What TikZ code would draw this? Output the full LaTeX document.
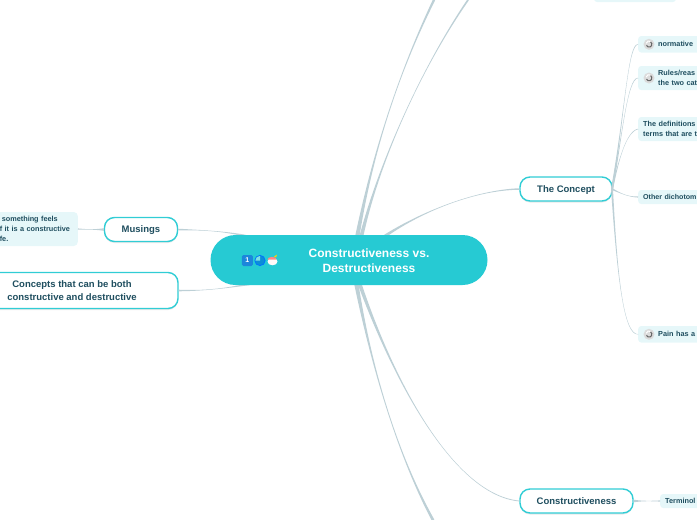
\documentclass[tikz,border=0pt]{standalone}
\usepackage{fontspec}
\setmainfont{Liberation Sans}
\usetikzlibrary{positioning,calc,shadows}
\definecolor{teal1}{HTML}{26CAD3}
\definecolor{ink}{HTML}{1F4E5F}
\definecolor{linkc}{HTML}{BDD0D6}
\definecolor{paleb}{HTML}{E6F7F9}
% tapered branch: from, control, control, to, half width at each end
\newcommand{\branch}[6]{\fill[linkc] ($(#1)!#5!90:(#4)$) .. controls (#2) and (#3) .. ($(#4)!#6!-90:(#1)$) -- ($(#4)!#6!90:(#1)$) .. controls (#3) and (#2) .. ($(#1)!#5!-90:(#4)$) -- cycle;}
\tikzset{
  mainbox/.style={fill=teal1,rounded corners=25pt,minimum width=277pt,minimum height=50pt},
  maintext/.style={text=white,align=center,font=\bfseries\fontsize{12}{15}\selectfont},
  topicbox/.style={draw=teal1!95,line width=1.4pt,fill=white,rounded corners=10pt,text=ink,align=center,
    font=\bfseries\fontsize{9.5}{13}\selectfont,minimum height=24pt,inner sep=0pt,
    drop shadow={opacity=.18,shadow xshift=0pt,shadow yshift=-1.5pt}},
  oneline/.style={text height=6.8pt,text depth=0pt},
  notebox/.style={fill=paleb,rounded corners=3pt,text=ink,align=left,anchor=west,inner xsep=#1,inner ysep=0pt,
    text width=110pt,font=\bfseries\fontsize{7.3}{9.7}\selectfont},
  noteicon/.pic={
    \fill[black!14] (0,0) circle (5.5);
    \draw[black!60,line width=1pt] (-2.5,1) arc (160:-60:2.8);
    \draw[white,line width=1pt] (-2.8,-1) arc (190:300:2.8);
  }
}
\begin{document}
\begin{tikzpicture}[x=1pt,y=-1pt]
  \useasboundingbox (0,0) rectangle (697,520);
  \clip (0,0) rectangle (697,520);
  % topics
  \node[topicbox,oneline,minimum width=92pt] (concept) at (566,189) {The Concept};
  \node[topicbox,oneline,minimum width=113pt] (constr) at (576.5,501) {Constructiveness};
  \node[topicbox,oneline,minimum width=73pt] (musings) at (141,229.5) {Musings};
  \node[topicbox,minimum width=212pt,minimum height=36pt] (bothways) at (72,290.5) {Concepts that can be both\\constructive and destructive};
  % notes on the right
  \node[notebox=20pt,minimum height=16.5pt] (normative) at (638,44.3) {normative};
  \node[notebox=20pt,minimum height=24pt] (rules) at (638,78) {Rules/reas\\the two cat};
  \node[notebox=5pt,minimum height=24pt] (defs) at (638,129) {The definitions\\terms that are t};
  \node[notebox=5pt,minimum height=14pt] (other) at (638,197) {\fontsize{7.1}{9}\selectfont Other dichotom};
  \node[notebox=20pt,minimum height=16.5pt] (pain) at (638,334.3) {Pain has a};
  \node[notebox=5pt,minimum height=14pt] (termin) at (660,501) {Terminol};
  \node[fill=paleb,rounded corners=3pt,minimum width=82pt,minimum height=10pt,inner sep=0pt] (topnote) at (635,-3) {};
  % note on the left
  \node[notebox=4pt,anchor=east,text width=74pt,minimum height=34pt,rounded corners=4pt] (feels) at (78,229) {\hspace*{2pt}something feels\\f it is a constructive\\fe.};
  % ends off the page
  \coordinate (topa) at (434,0);
  \coordinate (topb) at (468,0);
  \coordinate (bota) at (433,520);
  % starts on the main box
  \coordinate (hubt) at (357,238);
  \coordinate (hubu) at (361,238);
  \coordinate (hubb) at (356,282);
  \coordinate (hubc) at (359,282);
  % branches from the middle
  \branch{hubt}{373,150}{400,70}{topa}{2.2pt}{1.2pt}
  \branch{hubu}{378,165}{420,70}{topb}{2pt}{.9pt}
  \branch{hubb}{370,360}{395,450}{bota}{2.2pt}{1.4pt}
  \branch{hubc}{395,385}{455,495}{constr.west}{2pt}{.6pt}
  \coordinate (hubr) at (382,238);
  \branch{hubr}{420,212}{475,190}{concept.west}{1.6pt}{.8pt}
  \coordinate (hubl) at (246,236);
  \branch{hubl}{225,231}{200,230}{musings.east}{1.1pt}{.8pt}
  \coordinate (hubm) at (250,284);
  \branch{hubm}{228,288}{205,291}{bothways.east}{1.1pt}{.8pt}
  % branches to the notes
  \coordinate (conc) at (612,189);
  \branch{conc}{625,110}{628,44.3}{normative.west}{1pt}{.5pt}
  \branch{conc}{622,140}{627,78}{rules.west}{1pt}{.5pt}
  \branch{conc}{618,165}{625,132}{defs.west}{1pt}{.5pt}
  \branch{conc}{620,193}{628,197}{other.west}{1pt}{.6pt}
  \branch{conc}{618,290}{625,334.3}{pain.west}{1pt}{.5pt}
  \branch{constr.east}{642,501}{650,501}{termin.west}{1.3pt}{.6pt}
  \branch{musings.west}{96,229.5}{88,229.5}{feels.east}{1.3pt}{.6pt}
  % main box
  \node[mainbox] (main) at (349,260) {};
  \node[maintext] (title) at (369,260.7) {Constructiveness vs.\\Destructiveness};
  % icons
  \node[fill={rgb,255:red,28;green,134;blue,219},rounded corners=1.5pt,minimum size=11pt,inner sep=0pt,text=white,font=\bfseries\fontsize{7}{7}\selectfont] (one) at (247.3,260.5) {1};
  \fill[blue!55!cyan] (260,260.5) circle (5.6);
  \fill[cyan!75!blue] (260,260.5) circle (4.6);
  \fill[teal1!60!white] (260,260.5) -- (255.4,260.5) arc (180:270:4.6) -- cycle;
  \fill[white!90!pink] (272.5,261.5) ellipse (5 and 3.8);
  \fill[pink!70!red] (267.5,259.5) arc (180:360:4.5 and 2.6) -- cycle;
  \fill[yellow!70!orange] (274,256.5) -- (277,254.5) -- (276,257.5) -- cycle;
  % icons on the notes
  \pic at (649,44.3) {noteicon};
  \pic at (649,78) {noteicon};
  \pic at (649,334.3) {noteicon};
\end{tikzpicture}
\end{document}
